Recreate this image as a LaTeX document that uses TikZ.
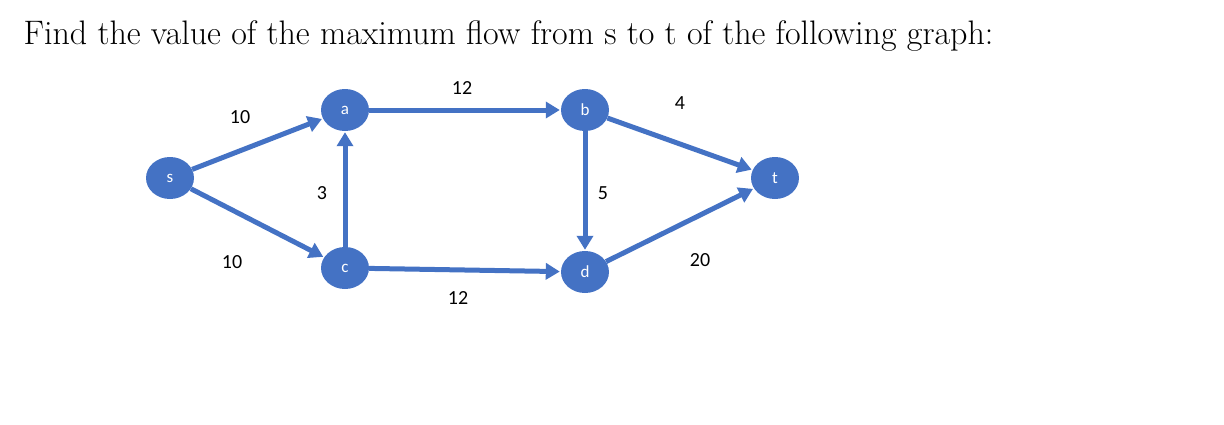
\documentclass[tikz,border=0pt]{standalone}
\usepackage{fontspec}
\newfontfamily\lab{Carlito}
\usetikzlibrary{arrows.meta}
\definecolor{nb}{HTML}{4472C4}
\tikzset{vert/.style={ellipse,fill=nb,minimum width=48pt,minimum height=42pt,inner sep=0pt,text=white,font=\lab\fontsize{17}{17}\selectfont},
edge/.style={draw=nb,line width=5pt,-{Triangle[length=14pt,width=16pt]},shorten >=1pt},
lbl/.style={font=\lab\fontsize{20}{20}\selectfont}}
\usetikzlibrary{shapes.geometric}
\begin{document}
\begin{tikzpicture}[x=1pt,y=-1pt]
\useasboundingbox (0,0) rectangle (1224,424);
\node[anchor=west,font=\fontsize{34}{34}\selectfont] (title) at (20,36) {Find the value of the maximum flow from s to t of the following graph:};
\node[vert] (s) at (170,178) {s};
\node[vert] (a) at (345,110) {a};
\node[vert] (b) at (585,110) {b};
\node[vert] (c) at (345,268) {c};
\node[vert] (d) at (585,272) {d};
\node[vert] (t) at (775,178) {t};
\draw[edge] (s) -- (a);
\draw[edge] (s) -- (c);
\draw[edge] (c) -- (a);
\draw[edge] (a) -- (b);
\draw[edge] (c) -- (d);
\draw[edge] (b) -- (d);
\draw[edge] (b) -- (t);
\draw[edge] (d) -- (t);
\node[lbl] (l1) at (240,117) {10};
\node[lbl] (l2) at (232,262) {10};
\node[lbl] (l3) at (462,88) {12};
\node[lbl] (l4) at (322,193) {3};
\node[lbl] (l5) at (680,103) {4};
\node[lbl] (l6) at (603,193) {5};
\node[lbl] (l7) at (700,260) {20};
\node[lbl] (l8) at (458,298) {12};
\end{tikzpicture}
\end{document}
